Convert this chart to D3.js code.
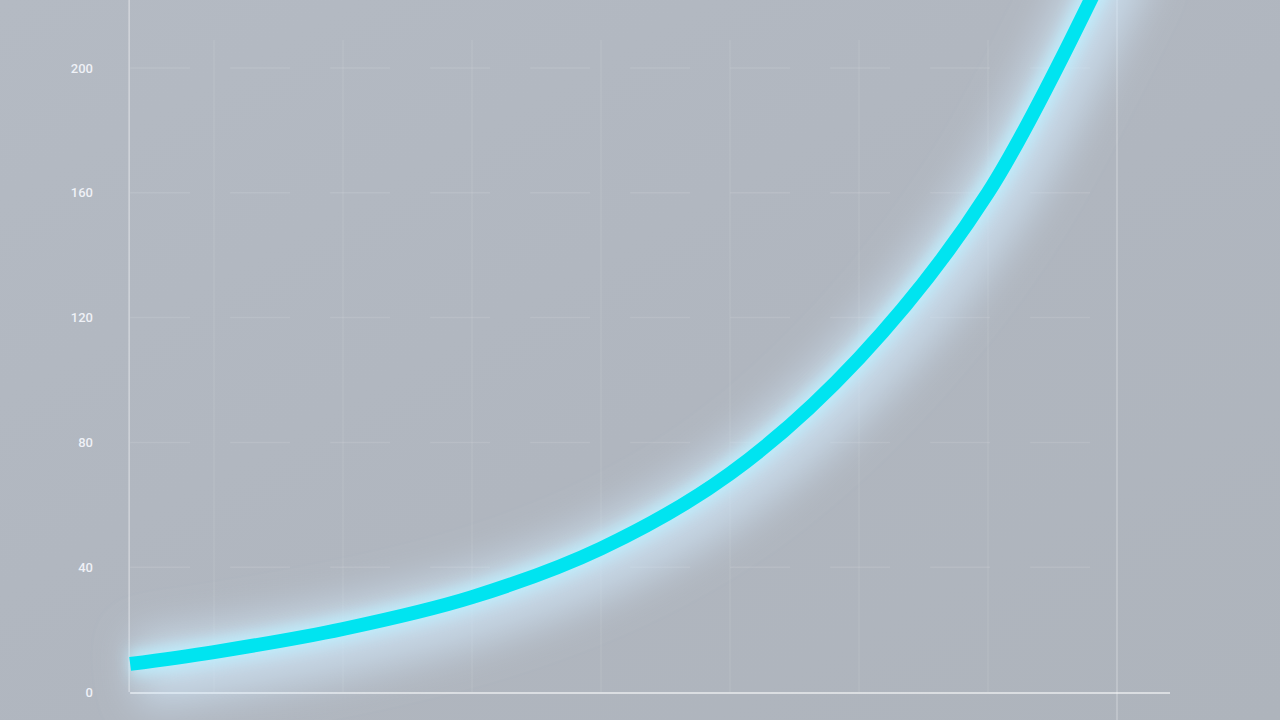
<!DOCTYPE html>
<html>
<head>
<meta charset="utf-8">
<script src="https://cdn.jsdelivr.net/npm/d3@7/dist/d3.min.js"></script>
<style>
  html, body { margin: 0; padding: 0; background: #b1b7c0; overflow: hidden; }
  svg { display: block; }
</style>
</head>
<body>
<svg id="chart" width="1280" height="720"></svg>
<script>
// ---- data ----
const xValues = [0.35, 1, 2, 3, 4, 5, 6, 7, 8];
const seriesValues = [9.0, 12.8, 20.2, 30.4, 46.0, 70.0, 107.0, 160.0, 239.4];
const yTickValues = [0, 40, 80, 120, 160, 200];
const yTickLabels = ["0", "40", "80", "120", "160", "200"];
const xGridValues = [1, 2, 3, 4, 5, 6, 7];

const W = 1280, H = 720;
const svg = d3.select("#chart");
const defs = svg.append("defs");

// background gradient
const bg = defs.append("linearGradient").attr("id", "bg")
  .attr("x1", "0").attr("y1", "0").attr("x2", "1").attr("y2", "1");
bg.append("stop").attr("offset", "0%").attr("stop-color", "#b4bac3");
bg.append("stop").attr("offset", "55%").attr("stop-color", "#b0b6bf");
bg.append("stop").attr("offset", "100%").attr("stop-color", "#aeb4bc");
svg.append("rect").attr("width", W).attr("height", H).attr("fill", "url(#bg)");

// glow filters
const fWide = defs.append("filter").attr("id", "glowWide")
  .attr("x", "-30%").attr("y", "-30%").attr("width", "160%").attr("height", "160%");
fWide.append("feGaussianBlur").attr("stdDeviation", 20);
const fMid = defs.append("filter").attr("id", "glowMid")
  .attr("x", "-30%").attr("y", "-30%").attr("width", "160%").attr("height", "160%");
fMid.append("feGaussianBlur").attr("stdDeviation", 7);

// scales
const x = d3.scaleLinear().domain([0, 8]).range([85, 1117]);
const y = d3.scaleLinear().domain([0, 200]).range([692, 68]);

// horizontal gridlines
svg.append("g").selectAll("line")
  .data(yTickValues.filter(v => v > 0))
  .join("line")
  .attr("x1", x(0.35)).attr("x2", x(8))
  .attr("y1", d => y(d)).attr("y2", d => y(d))
  .attr("stroke", "rgba(255,255,255,0.10)")
  .attr("stroke-width", 1.5)
  .attr("stroke-dasharray", "60 40");

// vertical gridlines
svg.append("g").selectAll("line")
  .data(xGridValues)
  .join("line")
  .attr("x1", d => x(d)).attr("x2", d => x(d))
  .attr("y1", 40).attr("y2", y(0))
  .attr("stroke", "rgba(255,255,255,0.08)")
  .attr("stroke-width", 1.5);

// right boundary line
svg.append("line")
  .attr("x1", x(8)).attr("x2", x(8)).attr("y1", 0).attr("y2", y(0) + 30)
  .attr("stroke", "rgba(255,255,255,0.28)").attr("stroke-width", 1.5);

// y axis line
svg.append("line")
  .attr("x1", x(0.35) - 1).attr("x2", x(0.35) - 1).attr("y1", 0).attr("y2", y(0))
  .attr("stroke", "rgba(255,255,255,0.40)").attr("stroke-width", 1.5);

// x axis line
svg.append("line")
  .attr("x1", x(0.35)).attr("x2", 1170).attr("y1", y(0) + 1).attr("y2", y(0) + 1)
  .attr("stroke", "rgba(255,255,255,0.55)").attr("stroke-width", 2);

// y axis labels
const yAxis = d3.axisLeft(y)
  .tickValues(yTickValues)
  .tickFormat((d, i) => yTickLabels[i])
  .tickSize(0).tickPadding(0);
const gy = svg.append("g").attr("transform", "translate(93,0)").call(yAxis);
gy.select(".domain").remove();
gy.selectAll("text")
  .attr("fill", "rgba(248,250,255,0.88)")
  .style("font-family", "Roboto, 'DejaVu Sans', sans-serif")
  .style("font-size", "13px")
  .style("font-weight", "500");

// line
const pts = xValues.map((v, i) => [v, seriesValues[i]]);
const line = d3.line().x(d => x(d[0])).y(d => y(d[1])).curve(d3.curveCatmullRom.alpha(0.5));
const dPath = line(pts);

svg.append("path").attr("d", dPath)
  .attr("fill", "none").attr("stroke", "#d4ecff").attr("stroke-width", 70)
  .attr("opacity", 0.65).attr("filter", "url(#glowWide)")
  .attr("transform", "translate(6,8)");
svg.append("path").attr("d", dPath)
  .attr("fill", "none").attr("stroke", "#bdf0ff").attr("stroke-width", 26)
  .attr("opacity", 0.85).attr("filter", "url(#glowMid)");
svg.append("path").attr("d", dPath)
  .attr("fill", "none").attr("stroke", "#00e4f0").attr("stroke-width", 14)
  .attr("stroke-linecap", "butt");
</script>
</body>
</html>
